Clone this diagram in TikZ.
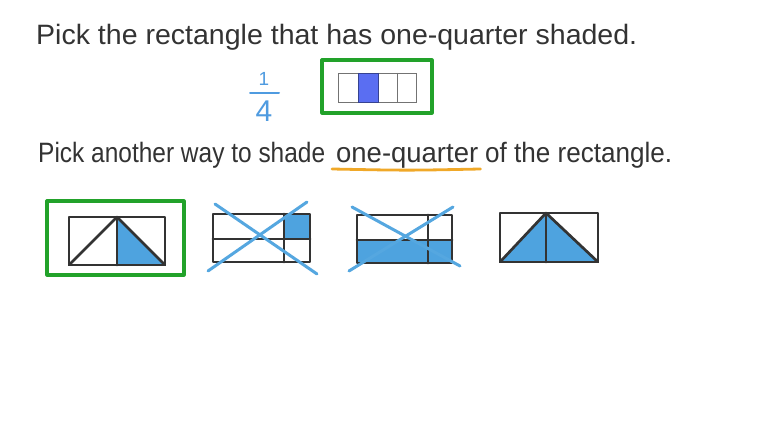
\documentclass[tikz,border=0pt]{standalone}
\usepackage{fontspec}
\setmainfont{Liberation Sans}
\usepackage{graphicx}
\usetikzlibrary{calc}
\definecolor{ink}{HTML}{333333}
\definecolor{answergreen}{HTML}{22A22A}
\definecolor{shadeblue}{HTML}{4EA3DF}
\definecolor{crossblue}{HTML}{55A7E0}
\definecolor{cellblue}{HTML}{5A6EF2}
\definecolor{fracblue}{HTML}{4F9BE0}
\definecolor{ulorange}{HTML}{F0A828}
\begin{document}
\begin{tikzpicture}[x=1pt,y=-1pt,
  title/.style={inner sep=0pt, anchor=base west, text=ink, font=\fontsize{28}{32}\selectfont},
  figline/.style={draw=ink, line width=2.7pt, line join=round, line cap=round},
  greenbox/.style={draw=answergreen, line width=3.2pt, line join=round},
  crossline/.style={draw=crossblue, line width=3pt, line cap=round},
  cellline/.style={draw=black!55, line width=0.9pt},
  fracnum/.style={inner sep=0pt, text=fracblue}]
\useasboundingbox[fill=white] (0,0) rectangle (760,427);

% ---- first line
\node[title] (t1) at (36,45) {\resizebox{601pt}{\height}{Pick the rectangle that has one-quarter shaded.}};

% fraction 1/4
\node[fracnum, anchor=base, font=\fontsize{19}{19}\selectfont] (num) at (264,86) {1};
\node[fracnum, anchor=base, font=\fontsize{30}{30}\selectfont] (den) at (264,122) {4};
\coordinate (barL) at (250,93);
\coordinate (barR) at (279,93);
\draw[fracblue, line width=2pt, line cap=round] (barL) -- (barR);

% top answer box
\draw[greenbox] (322,60) rectangle (432,113);
\fill[cellblue] (358,73) rectangle (378,102);
\draw[cellline] (338,73) rectangle (416,102);
\draw[cellline] (358,73) -- (358,102) (378,73) -- (378,102) (397,73) -- (397,102);
\draw[draw=cellblue!60!black, line width=0.9pt] (358,73) rectangle (378,102);

% ---- second line
\node[title] (t2a) at (38,163) {\resizebox{287pt}{\height}{Pick another way to shade}};
\node[title] (t2b) at (336,163) {\resizebox{142pt}{\height}{one-quarter}};
\node[title] (t2c) at (485,163) {\resizebox{187pt}{\height}{of the rectangle.}};
\draw[ulorange, line width=2.8pt, line cap=round]
  ($(t2b.base west)+(-4,6)$) .. controls ($(t2b.base)+(0,7.5)$) .. ($(t2b.base east)+(2,6)$);

% ---- figure 1 (correct)
\draw[greenbox] (47,201) rectangle (184,275);
\fill[shadeblue] (117,217) -- (117,265) -- (165,265) -- cycle;
\draw[figline] (69,217) rectangle (165,265);
\draw[figline] (69,265) -- (117,217) -- (165,265);
\draw[figline] (117,217) -- (117,265);

% ---- figure 2 (crossed)
\fill[shadeblue] (284,214) rectangle (310,239);
\draw[figline] (213,214) rectangle (310,262);
\draw[figline] (213,239) -- (310,239);
\draw[figline] (284,214) -- (284,262);
\draw[crossline] (215,204) -- (317,274);
\draw[crossline] (307,202) -- (208,271);

% ---- figure 3 (crossed)
\fill[shadeblue] (357,240) rectangle (452,263);
\draw[figline] (357,215) rectangle (452,263);
\draw[figline] (357,240) -- (452,240);
\draw[figline] (428,215) -- (428,263);
\draw[crossline] (352,207) -- (460,266);
\draw[crossline] (453,207) -- (349,271);

% ---- figure 4
\fill[shadeblue] (500,262) -- (546,213) -- (598,262) -- cycle;
\draw[figline] (500,213) rectangle (598,262);
\draw[figline] (500,262) -- (546,213) -- (598,262);
\draw[figline] (546,213) -- (546,262);
\end{tikzpicture}
\end{document}
